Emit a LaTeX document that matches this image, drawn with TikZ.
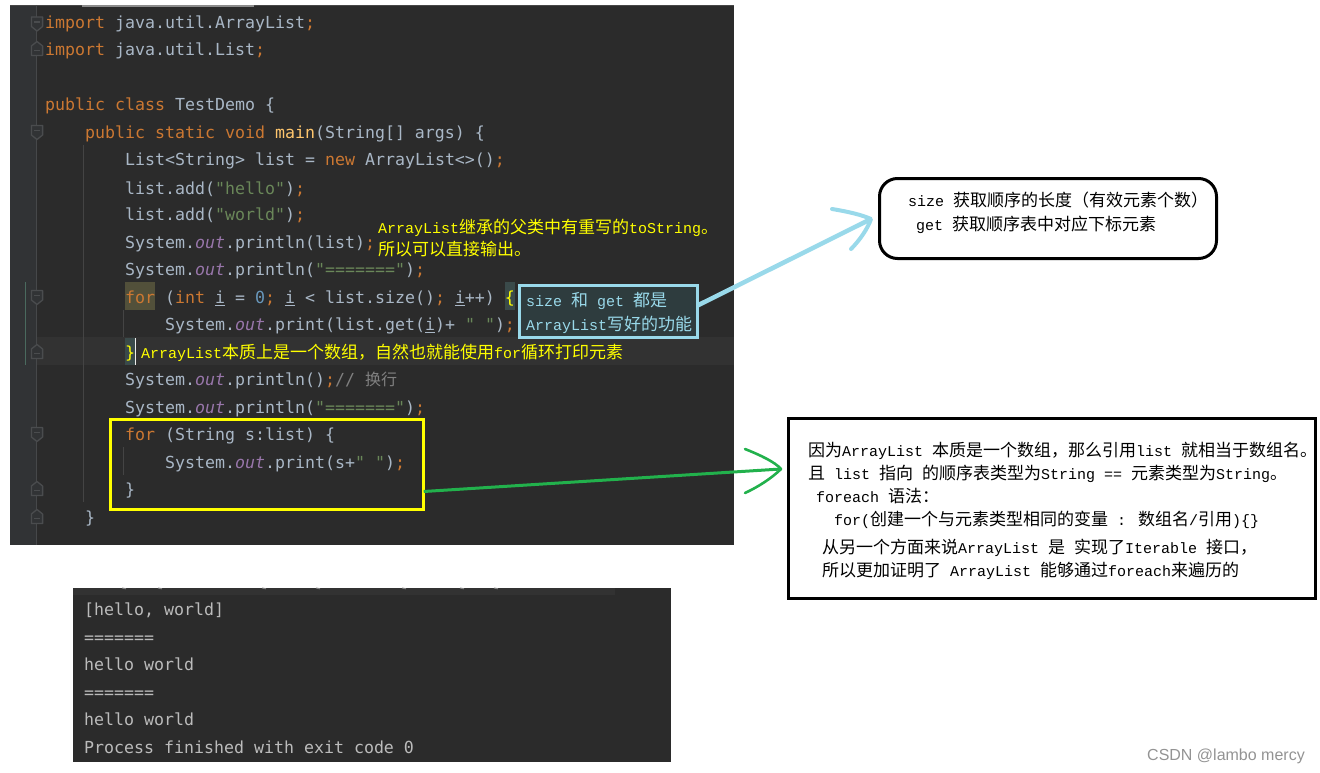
\documentclass[tikz,border=0pt]{standalone}
\usepackage{fontspec}
\newfontfamily\codefont{DejaVu Sans Mono}
\newfontfamily\annofont{Liberation Mono}
\newfontfamily\cjk{Noto Sans CJK SC}
\newfontfamily\wmfont{Liberation Sans}
\definecolor{editorbg}{HTML}{2B2B2B}
\definecolor{gutterbg}{HTML}{313335}
\definecolor{gutterline}{HTML}{46484A}
\definecolor{foldcol}{HTML}{4A4C4E}
\definecolor{caretline}{HTML}{323232}
\definecolor{codecol}{HTML}{A9B7C6}
\definecolor{kwcol}{HTML}{CC7832}
\definecolor{strcol}{HTML}{6A8759}
\definecolor{fldcol}{HTML}{9876AA}
\definecolor{fncol}{HTML}{FFC66D}
\definecolor{numcol}{HTML}{6897BB}
\definecolor{cmtcol}{HTML}{808080}
\definecolor{outcol}{HTML}{BBBBBB}
\definecolor{skyline}{HTML}{99D9EA}
\definecolor{grassline}{HTML}{22B14C}
\definecolor{marker}{HTML}{FFFF00}
\definecolor{forhl}{HTML}{52503A}
\definecolor{bracehl}{HTML}{3A4A4A}
\definecolor{sizefill}{HTML}{2E3C3E}
\definecolor{changebar}{HTML}{4A6A5E}
\newcommand{\kw}[1]{\textcolor{kwcol}{#1}}
\newcommand{\strg}[1]{\textcolor{strcol}{#1}}
\newcommand{\fld}[1]{\textcolor{fldcol}{\itshape #1}}
\newcommand{\fnm}[1]{\textcolor{fncol}{#1}}
\newcommand{\semi}{\textcolor{kwcol}{;}}
\newcommand{\ui}{\underline{i}}
\newcommand{\C}[1]{{\cjk\fontsize{17}{20}\selectfont #1}}
\tikzset{
  codeline/.style={anchor=base west,inner sep=0pt,text=codecol,font=\codefont\fontsize{16.6}{20}\selectfont},
  outline/.style={anchor=base west,inner sep=0pt,text=outcol,font=\codefont\fontsize{16.6}{20}\selectfont},
  anno/.style={anchor=base west,inner sep=0pt,font=\annofont\fontsize{15}{20}\selectfont},
  yellownote/.style={anno,text=marker},
  bluenote/.style={anno,text=skyline},
  blacknote/.style={anno,text=black},
  framebox/.style={anchor=north west,inner sep=0pt,outer sep=0pt,line width=3pt},
  foldopen/.pic={\draw[foldcol,line width=1.3pt,fill=gutterbg,line join=round]
     (-5.6,-6.5)--(5.6,-6.5)--(5.6,3)--(0,7.5)--(-5.6,3)--cycle; \draw[foldcol,line width=1.1pt](-3,-1.5)--(3,-1.5);},
  foldclose/.pic={\draw[foldcol,line width=1.3pt,fill=gutterbg,line join=round]
     (-5.6,6.5)--(5.6,6.5)--(5.6,-3)--(0,-7.5)--(-5.6,-3)--cycle; \draw[foldcol,line width=1.1pt](-3,1.5)--(3,1.5);}
}
\begin{document}
\begin{tikzpicture}[x=1pt,y=-1pt]
\useasboundingbox (0,0) rectangle (1320,773);
% editor
\fill[editorbg] (10,5) rectangle (734,545);
\fill[gutterbg] (10,5) rectangle (36,545);
\fill[caretline] (36,337) rectangle (734,365);
\draw[gutterline,line width=1pt] (36.5,5) -- (36.5,545);
\fill[black!72!white] (10,5) rectangle (734,6);
\fill[gray!90!white] (82,5) rectangle (254,7);
\draw[changebar,line width=1pt] (25.5,282) -- (25.5,365);
\foreach \ya/\yb/\xx in {145/502/83.5,310/337/123.5,447/475/123.5}
  \draw[white!12!editorbg,line width=.8pt] (\xx,\ya) -- (\xx,\yb);
\foreach \yy in {23.5,132,297,434} \pic at (37,\yy) {foldopen};
\foreach \yy in {49,352,489,517} \pic at (37,\yy) {foldclose};
% highlights
\fill[forhl] (125,282) rectangle (155,310);
\fill[bracehl] (505,282) rectangle (515,310);
\fill[bracehl] (125,338) rectangle (135,365);
\fill[white!85!gray] (134.5,338) rectangle (135.8,365);
% code
\node[codeline] (c1) at (45,29) {\kw{import} java.util.ArrayList\semi};
\node[codeline] (c2) at (45,56) {\kw{import} java.util.List\semi};
\node[codeline] (c3) at (45,111) {\kw{public class} TestDemo \{};
\node[codeline] (c4) at (85,139) {\kw{public static void} \fnm{main}(String[] args) \{};
\node[codeline] (c5) at (125,165.5) {List<String> list = \kw{new} ArrayList<>()\semi};
\node[codeline] (c6) at (125,194) {list.add(\strg{"hello"})\semi};
\node[codeline] (c7) at (125,220.5) {list.add(\strg{"world"})\semi};
\node[codeline] (c8) at (125,248.5) {System.\fld{out}.println(list)\semi};
\node[codeline] (c9) at (125,275.5) {System.\fld{out}.println(\strg{"======="})\semi};
\node[codeline] (c10) at (125,303.5) {\kw{for} (\kw{int} \ui{} = \textcolor{numcol}{0}\semi{} \ui{} < list.size()\semi{} \ui++) \textcolor{marker}{\{}};
\node[codeline] (c11) at (165,330.5) {System.\fld{out}.print(list.get(\ui)+ \strg{" "})\semi};
\node[codeline] (c12) at (125,358) {\textcolor{marker}{\}}};
\node[codeline] (c13) at (125,385.5) {System.\fld{out}.println()\semi\textcolor{cmtcol}{// {\cjk\fontsize{16}{20}\selectfont 换行}}};
\node[codeline] (c14) at (125,413) {System.\fld{out}.println(\strg{"======="})\semi};
\node[codeline] (c15) at (125,440.5) {\kw{for} (String s:list) \{};
\node[codeline] (c16) at (165,468) {System.\fld{out}.print(s+\strg{" "})\semi};
\node[codeline] (c17) at (125,495) {\}};
\node[codeline] (c18) at (85,523) {\}};
% yellow notes on the code
\node[yellownote] (y1) at (378,233.5) {ArrayList\C{继承的父类中有重写的}toString\C{。}};
\node[yellownote] (y2) at (378,255.5) {\C{所以可以直接输出。}};
\node[yellownote] (y3) at (141,358) {ArrayList\C{本质上是一个数组，自然也就能使用}for\C{循环打印元素}};
% frames
\node[framebox,draw=marker,minimum width=313pt,minimum height=90pt] (forbox) at (110.7,419) {};
\node[framebox,draw=skyline,fill=sizefill,minimum width=178pt,minimum height=52pt] (sizebox) at (519.5,285.5) {};
\node[bluenote] (b1) at (526,306) {size \C{和} get \C{都是}};
\node[bluenote] (b2) at (526,330) {ArrayList\C{写好的功能}};
% right notes
\node[framebox,draw=black,rounded corners=18pt,minimum width=337pt,minimum height=80pt] (roundnote) at (879.5,178.5) {};
\node[blacknote] (r1) at (908,206) {size \C{获取顺序的长度（有效元素个数）}};
\node[blacknote] (r2) at (916,230) {get \C{获取顺序表中对应下标元素}};
\node[framebox,draw=black,minimum width=527pt,minimum height=180pt] (bignote) at (788,418.5) {};
\node[blacknote] (n1) at (808,456) {\C{因为}ArrayList \C{本质是一个数组，那么引用}list \C{就相当于数组名。}};
\node[blacknote] (n2) at (808,479) {\C{且} list \C{指向} \C{的顺序表类型为}String == \C{元素类型为}String\C{。}};
\node[blacknote] (n3) at (816,502) {foreach \C{语法：}};
\node[blacknote] (n4) at (834,525) {for(\C{创建一个与元素类型相同的变量} : \C{数组名}/\C{引用})\{\}};
\node[blacknote] (n5) at (822,553) {\C{从另一个方面来说}ArrayList \C{是} \C{实现了}Iterable \C{接口，}};
\node[blacknote] (n6) at (822,576) {\C{所以更加证明了} ArrayList \C{能够通过}foreach\C{来遍历的}};
% connectors
\coordinate (bluetip) at (871,219);
\coordinate (greentip) at (781,469);
\draw[skyline,line width=4.5pt] ([yshift=6pt]sizebox.east) -- (bluetip);
\draw[skyline,line width=4pt,line cap=round,line join=round] (832,209) .. controls (850,212) and (862,215) .. (bluetip) .. controls (868,228) and (860,240) .. (851,249);
\draw[grassline,line width=3pt] ([yshift=-27.5pt]forbox.east) -- (greentip);
\draw[grassline,line width=2.6pt,line cap=round,line join=round] (745,449) .. controls (760,455) and (775,462) .. (greentip) .. controls (772,478) and (758,487) .. (745,493);
% output panel
\fill[editorbg] (73,588) rectangle (671,762);
\fill[caretline] (73,588) rectangle (615,595);
\foreach \xx in {122,158,262,316,402,460,494}
  \draw[gray,line width=1pt] (\xx,588) -- (\xx+4,588.8);
\node[outline] (o1) at (84,615) {[hello, world]};
\node[outline] (o2) at (84,643) {=======};
\node[outline] (o3) at (84,670) {hello world};
\node[outline] (o4) at (84,698) {=======};
\node[outline] (o5) at (84,725) {hello world};
\node[outline] (o6) at (84,753) {Process finished with exit code 0};
% watermark
\node[anchor=base east,inner sep=0pt,text=gray!85!white,font=\wmfont\fontsize{16}{18}\selectfont] (wm) at (1305,760) {CSDN @lambo mercy};
\end{tikzpicture}
\end{document}
